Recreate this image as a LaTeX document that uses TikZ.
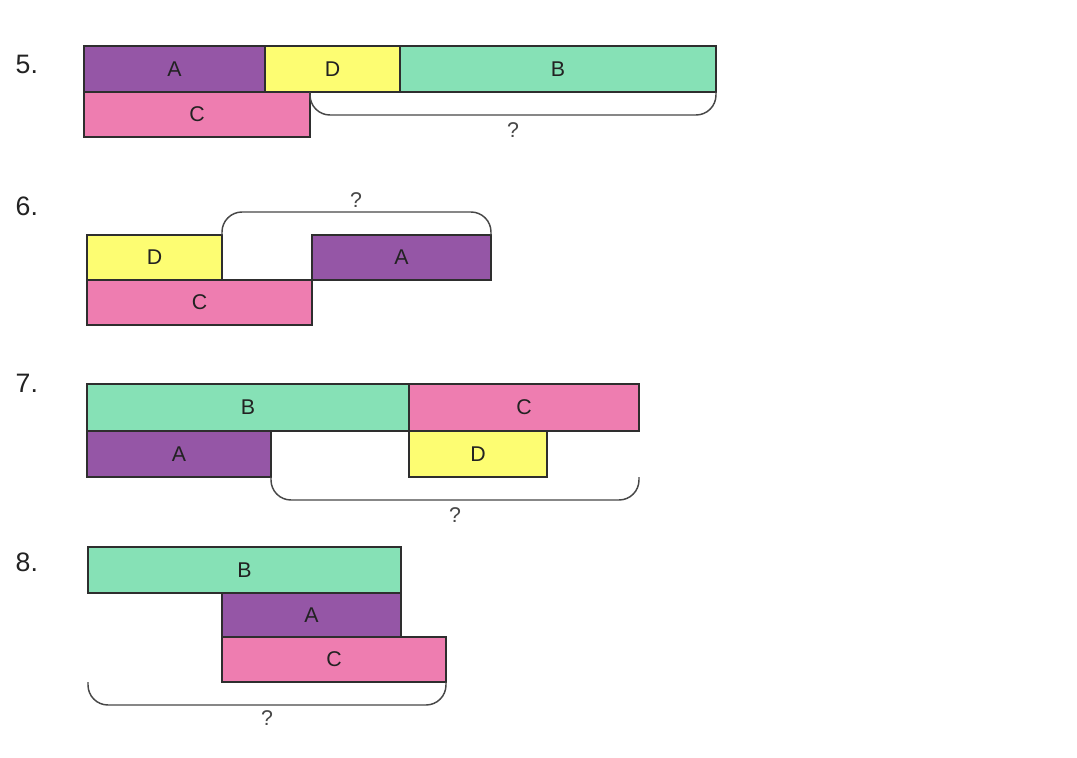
\documentclass[tikz,border=0pt]{standalone}
\usepackage{fontspec}
\setmainfont{Liberation Sans}
\usetikzlibrary{calc}
\definecolor{BarA}{HTML}{9556A6}
\definecolor{BarB}{HTML}{86E1B6}
\definecolor{BarC}{HTML}{EE7DB0}
\definecolor{BarD}{HTML}{FDFD72}
\definecolor{Edge}{HTML}{2E2E2E}
\definecolor{InkDark}{HTML}{222222}
\definecolor{InkSoft}{HTML}{474747}

\begin{document}
\begin{tikzpicture}[x=0.75pt,y=-0.75pt,every node/.style={text=InkDark},bar/.style={draw=Edge,line width=0.8pt},letter/.style={font=\fontsize{16}{19}\selectfont},brace/.style={draw=InkSoft,line width=1.1pt,rounded corners=15pt},ask/.style={font=\fontsize{16}{19}\selectfont,text=InkSoft},num/.style={font=\fontsize{20}{24}\selectfont,anchor=west}]
\useasboundingbox (0,0) rectangle (1077,757);
\fill[white] (0,0) rectangle (1077,757);
% 5.
\node[num] (n5) at (11,64) {5.};
\draw[bar,fill=BarA] (84,46) rectangle (265,92) node[midway,letter] (a5) {A};
\draw[bar,fill=BarD] (265,46) rectangle (400,92) node[midway,letter] (d5) {D};
\draw[bar,fill=BarB] (400,46) rectangle (716,92) node[midway,letter] (b5) {B};
\draw[bar,fill=BarC] (84,92) rectangle (310,137) node[midway,letter] (c5) {C};
\coordinate (s5) at (310,92); \coordinate (e5) at (716,92);
\draw[brace] (s5) -- ++(0,23) -| (e5);
\node[ask] (q5) at (513,130) {?};
% 6.
\node[num] (n6) at (11,206) {6.};
\draw[bar,fill=BarD] (87,235) rectangle (222,280) node[midway,letter] (d6) {D};
\draw[bar,fill=BarA] (312,235) rectangle (491,280) node[midway,letter] (a6) {A};
\draw[bar,fill=BarC] (87,280) rectangle (312,325) node[midway,letter] (c6) {C};
\coordinate (s6) at (222,235); \coordinate (e6) at (491,235);
\draw[brace] (s6) -- ++(0,-23) -| (e6);
\node[ask] (q6) at (356,200) {?};
% 7.
\node[num] (n7) at (11,383) {7.};
\draw[bar,fill=BarB] (87,384) rectangle (409,431) node[midway,letter] (b7) {B};
\draw[bar,fill=BarC] (409,384) rectangle (639,431) node[midway,letter] (c7) {C};
\draw[bar,fill=BarA] (87,431) rectangle (271,477) node[midway,letter] (a7) {A};
\draw[bar,fill=BarD] (409,431) rectangle (547,477) node[midway,letter] (d7) {D};
\coordinate (s7) at (271,477); \coordinate (e7) at (639,477);
\draw[brace] (s7) -- ++(0,23) -| (e7);
\node[ask] (q7) at (455,515) {?};
% 8.
\node[num] (n8) at (11,562) {8.};
\draw[bar,fill=BarB] (88,547) rectangle (401,593) node[midway,letter] (b8) {B};
\draw[bar,fill=BarA] (222,593) rectangle (401,637) node[midway,letter] (a8) {A};
\draw[bar,fill=BarC] (222,637) rectangle (446,682) node[midway,letter] (c8) {C};
\coordinate (s8) at (88,682); \coordinate (e8) at (446,682);
\draw[brace] (s8) -- ++(0,23) -| (e8);
\node[ask] (q8) at (267,718) {?};
\end{tikzpicture}
\end{document}
